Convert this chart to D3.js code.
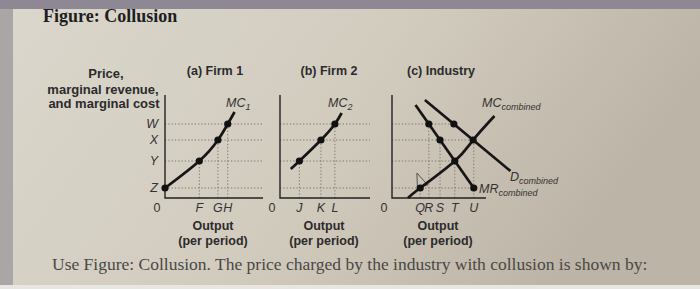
<!DOCTYPE html>
<html>
<head>
<meta charset="utf-8">
<script src="https://cdn.jsdelivr.net/npm/d3@7"></script>
<style>
  html, body { margin: 0; padding: 0; background: #cfc9bc; }
  svg { display: block; }
  .lbl { font-family: "Liberation Sans", Arial, sans-serif; font-weight: bold; font-size: 12.5px; fill: #2b2b2b; }
  .it { font-family: "Liberation Sans", Arial, sans-serif; font-style: italic; font-size: 12.5px; fill: #333; }
</style>
</head>
<body>
<svg id="chart" width="700" height="289"></svg>
<script>
// price levels on the shared vertical axis
const priceLabels = ["W", "X", "Y", "Z"]
const priceValues = [7.4, 5.8, 3.7, 1.0]

// firm 1
const firm1Ticks = ["F", "G", "H"]
const firm1Out = [3.5, 5.4, 6.4]
const firm1Lvl = [3.7, 5.8, 7.4]
const mc1 = [[0, 1.0], [3.5, 3.7], [5.4, 5.8], [6.4, 7.4], [7.1, 8.6]]

// firm 2
const firm2Ticks = ["J", "K", "L"]
const firm2Out = [2.15, 4.55, 6.1]
const firm2Lvl = [3.7, 5.8, 7.4]
const mc2 = [[1.2, 2.9], [2.15, 3.7], [4.55, 5.8], [6.1, 7.4], [6.85, 8.5]]

// industry
const indTicks = ["Q", "R", "S", "T", "U"]
const indOut = [3.0, 3.92, 5.11, 6.68, 8.7]
const indLvl = [1.0, 7.4, 5.8, 3.7, 5.8]
const mcComb = [[1.7, 0], [3.0, 1.0], [6.68, 3.7], [8.63, 5.8], [10.9, 8.2]]
const mrComb = [[2.5, 9.3], [8.7, 1.0]]
const dComb = [[3.5, 9.8], [12.6, 2.7]]
const indDots = [[3.0, 1.0], [3.92, 7.4], [5.11, 5.8], [6.68, 3.7], [8.7, 1.0], [6.58, 7.4], [8.63, 5.8]]
const indHoriz = [[7.4, 6.58], [5.8, 8.63], [3.7, 6.68], [1.0, 8.7]]

const svg = d3.select("#chart")

// photo-like background
const defs = svg.append("defs")
const g1 = defs.append("linearGradient").attr("id", "bg").attr("x1", 0).attr("x2", 1).attr("y1", 0).attr("y2", 0.3)
g1.append("stop").attr("offset", "0%").attr("stop-color", "#dbd7cc")
g1.append("stop").attr("offset", "55%").attr("stop-color", "#d2ccbf")
g1.append("stop").attr("offset", "100%").attr("stop-color", "#bcb4a6")
svg.append("rect").attr("width", 700).attr("height", 289).attr("fill", "url(#bg)")
svg.append("rect").attr("width", 13).attr("height", 289).attr("fill", "#aaa6a6")
svg.append("rect").attr("width", 700).attr("height", 9).attr("fill", "#8d8893")
svg.append("rect").attr("y", 285).attr("width", 700).attr("height", 4).attr("fill", "#e8e6e2")

svg.append("text").attr("x", 43).attr("y", 22)
  .style("font-family", "'Liberation Serif', 'Times New Roman', serif")
  .style("font-weight", "bold").style("font-size", "18px").style("fill", "#1e1e1e")
  .text("Figure: Collusion")

const y = d3.scaleLinear().domain([0, 10.3]).range([198, 95])

// vertical axis title
const yt = svg.append("text").attr("class", "lbl").attr("text-anchor", "middle").style("font-size", "13px")
yt.append("tspan").attr("x", 106).attr("y", 78).text("Price,")
yt.append("tspan").attr("x", 103).attr("y", 94).text("marginal revenue,")
yt.append("tspan").attr("x", 104).attr("y", 108).text("and marginal cost")

svg.selectAll(".plab").data(priceLabels).enter().append("text")
  .attr("class", "it").attr("text-anchor", "end")
  .attr("x", 158).attr("y", (d, i) => y(priceValues[i]) + 4)
  .text(d => d)

const line = d3.line().x(d => d[0]).y(d => d[1])
const dotted = sel => sel.attr("stroke", "#7a7670").attr("stroke-width", 1).attr("stroke-dasharray", "1.3,2")

function panel(x0, x1, title, titleX) {
  const x = d3.scaleLinear().domain([0, 10]).range([x0, x1])
  const g = svg.append("g")
  g.append("text").attr("class", "lbl").attr("x", titleX).attr("y", 75).attr("text-anchor", "middle").text(title)
  g.append("text").attr("class", "it").attr("x", x0 - 8).attr("y", 212).attr("text-anchor", "middle").style("font-style", "normal").text("0")
  const ot = g.append("text").attr("class", "lbl").attr("text-anchor", "middle").style("font-size", "12.5px")
  ot.append("tspan").attr("x", (x0 + x1) / 2 - 1).attr("y", 230).text("Output")
  ot.append("tspan").attr("x", (x0 + x1) / 2 - 1).attr("y", 245).text("(per period)")
  return { x, g }
}

function axes(g, x) {
  g.append("path").attr("fill", "none").attr("stroke", "#222").attr("stroke-width", 1.4)
    .attr("d", line([[x(0), y(10.3)], [x(0), y(0)], [x(10), y(0)]]))
}

function curve(g, pts, x, smooth) {
  g.append("path").attr("fill", "none").attr("stroke", "#161616").attr("stroke-width", 2.7)
    .attr("d", d3.line().x(d => x(d[0])).y(d => y(d[1])).curve(smooth ? d3.curveNatural : d3.curveLinear)(pts))
}

function dots(g, pts, x) {
  g.selectAll(null).data(pts).enter().append("circle")
    .attr("cx", d => x(d[0])).attr("cy", d => y(d[1])).attr("r", 3.6).attr("fill", "#111")
}

function ticks(g, names, outs, lvls, x) {
  g.selectAll(null).data(outs).enter().append("line")
    .attr("x1", d => x(d)).attr("x2", d => x(d)).attr("y1", y(0)).attr("y2", (d, i) => y(lvls[i]))
    .call(dotted)
  g.selectAll(null).data(names).enter().append("text").attr("class", "it").attr("text-anchor", "middle")
    .attr("x", (d, i) => x(outs[i])).attr("y", 212).text(d => d)
}

function sublabel(g, px, py, main, sub, subDy) {
  const t = g.append("text").attr("class", "it").attr("x", px).attr("y", py).style("font-size", "12.5px")
  t.append("tspan").text(main)
  t.append("tspan").attr("dy", subDy).style("font-size", "9px").text(sub)
}

// (a) Firm 1
{
  const { x, g } = panel(165, 263, "(a) Firm 1", 215)
  g.selectAll(null).data(priceValues).enter().append("line")
    .attr("x1", x(0)).attr("x2", x(10)).attr("y1", d => y(d)).attr("y2", d => y(d)).call(dotted)
  ticks(g, firm1Ticks, firm1Out, firm1Lvl, x)
  axes(g, x)
  curve(g, mc1, x, true)
  dots(g, mc1.slice(0, 4), x)
  sublabel(g, 226, 107, "MC", "1", 3)
}

// (b) Firm 2
{
  const { x, g } = panel(280, 370, "(b) Firm 2", 329)
  g.selectAll(null).data(priceValues).enter().append("line")
    .attr("x1", x(0)).attr("x2", x(10)).attr("y1", d => y(d)).attr("y2", d => y(d)).call(dotted)
  ticks(g, firm2Ticks, firm2Out, firm2Lvl, x)
  axes(g, x)
  curve(g, mc2, x, true)
  dots(g, mc2.slice(1, 4), x)
  sublabel(g, 328, 107, "MC", "2", 3)
}

// (c) Industry
{
  const { x, g } = panel(392, 486, "(c) Industry", 441)
  g.selectAll(null).data(indHoriz).enter().append("line")
    .attr("x1", x(0)).attr("x2", d => x(d[1])).attr("y1", d => y(d[0])).attr("y2", d => y(d[0])).call(dotted)
  ticks(g, indTicks, indOut, indLvl, x)
  axes(g, x)
  // small hatched triangle near Q
  g.append("path").attr("fill", "none").attr("stroke", "#444").attr("stroke-width", 0.9)
    .attr("d", line([[x(2.65), y(2.5)], [x(2.7), y(1.1)], [x(3.8), y(1.3)], [x(2.65), y(2.5)]]))
  curve(g, dComb, x, false)
  curve(g, mrComb, x, false)
  curve(g, mcComb, x, true)
  dots(g, indDots, x)
  sublabel(g, 482, 107, "MC", "combined", 3)
  sublabel(g, 510, 181, "D", "combined", 3)
  sublabel(g, 479, 193, "MR", "combined", 3)
}

svg.append("text").attr("x", 52).attr("y", 270)
  .style("font-family", "'Liberation Serif', 'Times New Roman', serif")
  .style("font-size", "17.5px").style("fill", "#4a4845")
  .text("Use Figure: Collusion. The price charged by the industry with collusion is shown by:")
</script>
</body>
</html>
